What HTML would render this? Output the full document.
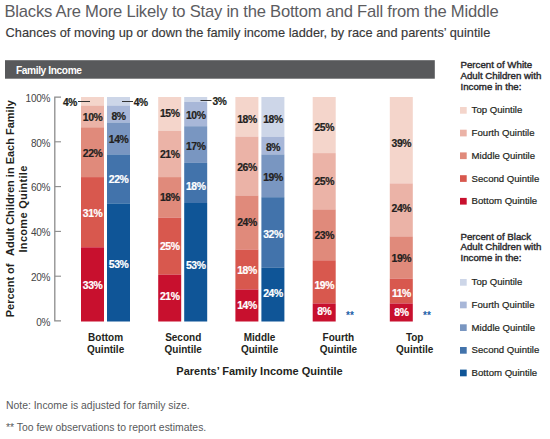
<!DOCTYPE html>
<html><head><meta charset="utf-8"><style>
html,body{margin:0;padding:0;background:#fff;}
body{width:550px;height:439px;overflow:hidden;position:relative;font-family:"Liberation Sans",sans-serif;}
.t{position:absolute;white-space:nowrap;line-height:1;}
svg{position:absolute;left:0;top:0;}
svg text{font-family:"Liberation Sans",sans-serif;}
.lb{font-size:10.4px;font-weight:700;text-anchor:middle;stroke-width:0.2px;letter-spacing:-0.4px}
.lb2{font-size:10.2px;font-weight:700;fill:#231f20;stroke:#231f20;stroke-width:0.2px;letter-spacing:-0.4px}
.star{font-size:10px;font-weight:700;fill:#1f5fa8;text-anchor:middle;}
.tk{font-size:10px;fill:#444446;text-anchor:end;letter-spacing:-0.2px}
.yt{font-size:11px;font-weight:700;fill:#231f20;text-anchor:middle;}
.xl{font-size:10px;font-weight:700;fill:#231f20;text-anchor:middle;}
.xt{font-size:11px;font-weight:700;fill:#231f20;text-anchor:middle;}
.lh{font-size:9.7px;font-weight:400;fill:#2a2a2c;stroke:#2a2a2c;stroke-width:0.4px}
.li{font-size:9.6px;fill:#231f20;stroke:#231f20;stroke-width:0.2px}
</style></head><body>
<svg width="550" height="439" viewBox="0 0 550 439">
<text x="4.5" y="17" style="font-size:16.6px;fill:#5c5c5f;letter-spacing:-0.22px">Blacks Are More Likely to Stay in the Bottom and Fall from the Middle</text>
<text x="5.6" y="36.9" style="font-size:12.8px;fill:#383838;stroke:#383838;stroke-width:0.15px">Chances of moving up or down the family income ladder, by race and parents&#8217; quintile</text>
<rect x="5" y="60.2" width="429.8" height="18.5" fill="#58595b"/>
<text x="16" y="74.2" style="font-size:10.2px;font-weight:700;fill:#fff;letter-spacing:-0.4px">Family Income</text>
<rect x="81" y="97" width="23" height="8.50" fill="#f4d5cb"/>
<rect x="81" y="105.5" width="23" height="21.80" fill="#ebb3a7"/>
<rect x="81" y="127.3" width="23" height="49.80" fill="#e08a7b"/>
<rect x="81" y="177.1" width="23" height="70.20" fill="#d8584e"/>
<rect x="81" y="247.3" width="23" height="74.20" fill="#c8102e"/>
<text x="92.6" y="121.00" class="lb" fill="#231f20" stroke="#231f20">10%</text>
<text x="92.6" y="157.30" class="lb" fill="#231f20" stroke="#231f20">22%</text>
<text x="92.6" y="217.10" class="lb" fill="#fff" stroke="#fff">31%</text>
<text x="92.6" y="288.50" class="lb" fill="#fff" stroke="#fff">33%</text>
<rect x="107" y="97" width="23" height="8.50" fill="#cdd6e8"/>
<rect x="107" y="105.5" width="23" height="17.00" fill="#a8b7d8"/>
<rect x="107" y="122.5" width="23" height="31.90" fill="#7996c1"/>
<rect x="107" y="154.4" width="23" height="49.00" fill="#4273ab"/>
<rect x="107" y="203.4" width="23" height="118.10" fill="#0f5597"/>
<text x="118.6" y="119.50" class="lb" fill="#231f20" stroke="#231f20">8%</text>
<text x="118.6" y="143.00" class="lb" fill="#231f20" stroke="#231f20">14%</text>
<text x="118.6" y="183.10" class="lb" fill="#fff" stroke="#fff">22%</text>
<text x="118.6" y="268.40" class="lb" fill="#fff" stroke="#fff">53%</text>
<rect x="158.2" y="97" width="23" height="33.80" fill="#f4d5cb"/>
<rect x="158.2" y="130.8" width="23" height="46.30" fill="#ebb3a7"/>
<rect x="158.2" y="177.1" width="23" height="40.50" fill="#e08a7b"/>
<rect x="158.2" y="217.6" width="23" height="57.10" fill="#d8584e"/>
<rect x="158.2" y="274.7" width="23" height="46.80" fill="#c8102e"/>
<text x="169.79999999999998" y="117.30" class="lb" fill="#231f20" stroke="#231f20">15%</text>
<text x="169.79999999999998" y="157.60" class="lb" fill="#231f20" stroke="#231f20">21%</text>
<text x="169.79999999999998" y="201.20" class="lb" fill="#231f20" stroke="#231f20">18%</text>
<text x="169.79999999999998" y="249.70" class="lb" fill="#fff" stroke="#fff">25%</text>
<text x="169.79999999999998" y="300.30" class="lb" fill="#fff" stroke="#fff">21%</text>
<rect x="184.2" y="97" width="23" height="5.00" fill="#cdd6e8"/>
<rect x="184.2" y="102" width="23" height="24.20" fill="#a8b7d8"/>
<rect x="184.2" y="126.2" width="23" height="36.70" fill="#7996c1"/>
<rect x="184.2" y="162.9" width="23" height="40.10" fill="#4273ab"/>
<rect x="184.2" y="203" width="23" height="118.50" fill="#0f5597"/>
<text x="195.79999999999998" y="119.00" class="lb" fill="#231f20" stroke="#231f20">10%</text>
<text x="195.79999999999998" y="150.10" class="lb" fill="#231f20" stroke="#231f20">17%</text>
<text x="195.79999999999998" y="189.60" class="lb" fill="#fff" stroke="#fff">18%</text>
<text x="195.79999999999998" y="268.60" class="lb" fill="#fff" stroke="#fff">53%</text>
<rect x="235.4" y="97" width="23" height="39.60" fill="#f4d5cb"/>
<rect x="235.4" y="136.6" width="23" height="58.90" fill="#ebb3a7"/>
<rect x="235.4" y="195.5" width="23" height="54.00" fill="#e08a7b"/>
<rect x="235.4" y="249.5" width="23" height="40.00" fill="#d8584e"/>
<rect x="235.4" y="289.5" width="23" height="32.00" fill="#c8102e"/>
<text x="247.0" y="123.10" class="lb" fill="#231f20" stroke="#231f20">18%</text>
<text x="247.0" y="170.80" class="lb" fill="#231f20" stroke="#231f20">26%</text>
<text x="247.0" y="226.40" class="lb" fill="#231f20" stroke="#231f20">24%</text>
<text x="247.0" y="274.40" class="lb" fill="#fff" stroke="#fff">18%</text>
<text x="247.0" y="308.50" class="lb" fill="#fff" stroke="#fff">14%</text>
<rect x="261.4" y="97" width="23" height="39.70" fill="#cdd6e8"/>
<rect x="261.4" y="136.7" width="23" height="17.70" fill="#a8b7d8"/>
<rect x="261.4" y="154.4" width="23" height="42.80" fill="#7996c1"/>
<rect x="261.4" y="197.2" width="23" height="70.60" fill="#4273ab"/>
<rect x="261.4" y="267.8" width="23" height="53.70" fill="#0f5597"/>
<text x="273.0" y="123.10" class="lb" fill="#231f20" stroke="#231f20">18%</text>
<text x="273.0" y="151.30" class="lb" fill="#231f20" stroke="#231f20">8%</text>
<text x="273.0" y="181.00" class="lb" fill="#231f20" stroke="#231f20">19%</text>
<text x="273.0" y="237.70" class="lb" fill="#fff" stroke="#fff">32%</text>
<text x="273.0" y="297.40" class="lb" fill="#fff" stroke="#fff">24%</text>
<rect x="312.7" y="97" width="23" height="56.10" fill="#f4d5cb"/>
<rect x="312.7" y="153.1" width="23" height="56.30" fill="#ebb3a7"/>
<rect x="312.7" y="209.4" width="23" height="50.90" fill="#e08a7b"/>
<rect x="312.7" y="260.3" width="23" height="43.20" fill="#d8584e"/>
<rect x="312.7" y="303.5" width="23" height="18.00" fill="#c8102e"/>
<text x="324.3" y="130.70" class="lb" fill="#231f20" stroke="#231f20">25%</text>
<text x="324.3" y="185.20" class="lb" fill="#231f20" stroke="#231f20">25%</text>
<text x="324.3" y="239.20" class="lb" fill="#231f20" stroke="#231f20">23%</text>
<text x="324.3" y="288.50" class="lb" fill="#fff" stroke="#fff">19%</text>
<text x="324.3" y="315.40" class="lb" fill="#fff" stroke="#fff">8%</text>
<rect x="389.8" y="97" width="23" height="86.40" fill="#f4d5cb"/>
<rect x="389.8" y="183.4" width="23" height="53.00" fill="#ebb3a7"/>
<rect x="389.8" y="236.4" width="23" height="42.20" fill="#e08a7b"/>
<rect x="389.8" y="278.6" width="23" height="24.90" fill="#d8584e"/>
<rect x="389.8" y="303.5" width="23" height="18.00" fill="#c8102e"/>
<text x="401.40000000000003" y="147.20" class="lb" fill="#231f20" stroke="#231f20">39%</text>
<text x="401.40000000000003" y="212.10" class="lb" fill="#231f20" stroke="#231f20">24%</text>
<text x="401.40000000000003" y="261.80" class="lb" fill="#231f20" stroke="#231f20">19%</text>
<text x="401.40000000000003" y="296.60" class="lb" fill="#fff" stroke="#fff">11%</text>
<text x="401.40000000000003" y="315.70" class="lb" fill="#fff" stroke="#fff">8%</text>
<line x1="78" y1="101.5" x2="90" y2="101.5" stroke="#333" stroke-width="1"/>
<text x="63" y="105.7" class="lb2">4%</text>
<line x1="122" y1="101.5" x2="133" y2="101.5" stroke="#333" stroke-width="1"/>
<text x="133.8" y="105.7" class="lb2">4%</text>
<line x1="200.5" y1="100.5" x2="211.5" y2="100.5" stroke="#333" stroke-width="1"/>
<text x="212.5" y="104.8" class="lb2">3%</text>
<text x="350" y="319" class="star">**</text>
<text x="427" y="319" class="star">**</text>
<path d="M61 97.2 H54.8 V320.8 H61" fill="none" stroke="#8c8c8c" stroke-width="1.3"/>
<line x1="54.8" y1="141.8" x2="61" y2="141.8" stroke="#8c8c8c" stroke-width="1.1"/>
<line x1="54.8" y1="186.6" x2="61" y2="186.6" stroke="#8c8c8c" stroke-width="1.1"/>
<line x1="54.8" y1="231.4" x2="61" y2="231.4" stroke="#8c8c8c" stroke-width="1.1"/>
<line x1="54.8" y1="276.2" x2="61" y2="276.2" stroke="#8c8c8c" stroke-width="1.1"/>
<text x="50.3" y="102.0" class="tk">100%</text>
<text x="50.3" y="146.6" class="tk">80%</text>
<text x="50.3" y="191.4" class="tk">60%</text>
<text x="50.3" y="236.2" class="tk">40%</text>
<text x="50.3" y="281.0" class="tk">20%</text>
<text x="50.3" y="325.6" class="tk">0%</text>
<text transform="translate(13.7 317.3) rotate(-90)" class="yt" style="text-anchor:start">Percent of</text>
<text transform="translate(13.7 256) rotate(-90)" class="yt" style="text-anchor:start">Adult Children in Each Family</text>
<text transform="translate(27.1 252.5) rotate(-90)" class="yt" style="text-anchor:start;letter-spacing:0.31px">Income Quintile</text>
<text x="105.6" y="340.5" class="xl">Bottom</text>
<text x="105.6" y="353" class="xl">Quintile</text>
<text x="183.2" y="340.5" class="xl">Second</text>
<text x="183.2" y="353" class="xl">Quintile</text>
<text x="259.6" y="340.5" class="xl">Middle</text>
<text x="259.6" y="353" class="xl">Quintile</text>
<text x="338.4" y="340.5" class="xl">Fourth</text>
<text x="338.4" y="353" class="xl">Quintile</text>
<text x="414.7" y="340.5" class="xl">Top</text>
<text x="414.7" y="353" class="xl">Quintile</text>
<text x="259.5" y="374.5" class="xt">Parents&#8217; Family Income Quintile</text>
<text x="460.5" y="67.9" class="lh">Percent of White</text>
<text x="460.5" y="79.1" class="lh">Adult Children with</text>
<text x="460.5" y="90.3" class="lh">Income in the:</text>
<rect x="460" y="107" width="6.7" height="6.7" fill="#f4d5cb"/>
<text x="471.6" y="113.3" class="li">Top Quintile</text>
<rect x="460" y="129.7" width="6.7" height="6.7" fill="#ebb3a7"/>
<text x="471.6" y="136.0" class="li">Fourth Quintile</text>
<rect x="460" y="152.4" width="6.7" height="6.7" fill="#e08a7b"/>
<text x="471.6" y="158.7" class="li">Middle Quintile</text>
<rect x="460" y="175.2" width="6.7" height="6.7" fill="#d8584e"/>
<text x="471.6" y="181.5" class="li">Second Quintile</text>
<rect x="460" y="197.9" width="6.7" height="6.7" fill="#c8102e"/>
<text x="471.6" y="204.2" class="li">Bottom Quintile</text>
<text x="460.5" y="239.5" class="lh">Percent of Black</text>
<text x="460.5" y="250.4" class="lh">Adult Children with</text>
<text x="460.5" y="261.3" class="lh">Income in the:</text>
<rect x="460" y="279" width="6.7" height="6.7" fill="#cdd6e8"/>
<text x="471.6" y="285.3" class="li">Top Quintile</text>
<rect x="460" y="301.6" width="6.7" height="6.7" fill="#a8b7d8"/>
<text x="471.6" y="307.9" class="li">Fourth Quintile</text>
<rect x="460" y="324.3" width="6.7" height="6.7" fill="#7996c1"/>
<text x="471.6" y="330.6" class="li">Middle Quintile</text>
<rect x="460" y="347" width="6.7" height="6.7" fill="#4273ab"/>
<text x="471.6" y="353.3" class="li">Second Quintile</text>
<rect x="460" y="369.6" width="6.7" height="6.7" fill="#0f5597"/>
<text x="471.6" y="375.9" class="li">Bottom Quintile</text>
<text x="6" y="409" style="font-size:10.4px;fill:#58595b">Note: Income is adjusted for family size.</text>
<text x="6" y="431" style="font-size:10.4px;fill:#58595b">** Too few observations to report estimates.</text>
</svg>
</body></html>
